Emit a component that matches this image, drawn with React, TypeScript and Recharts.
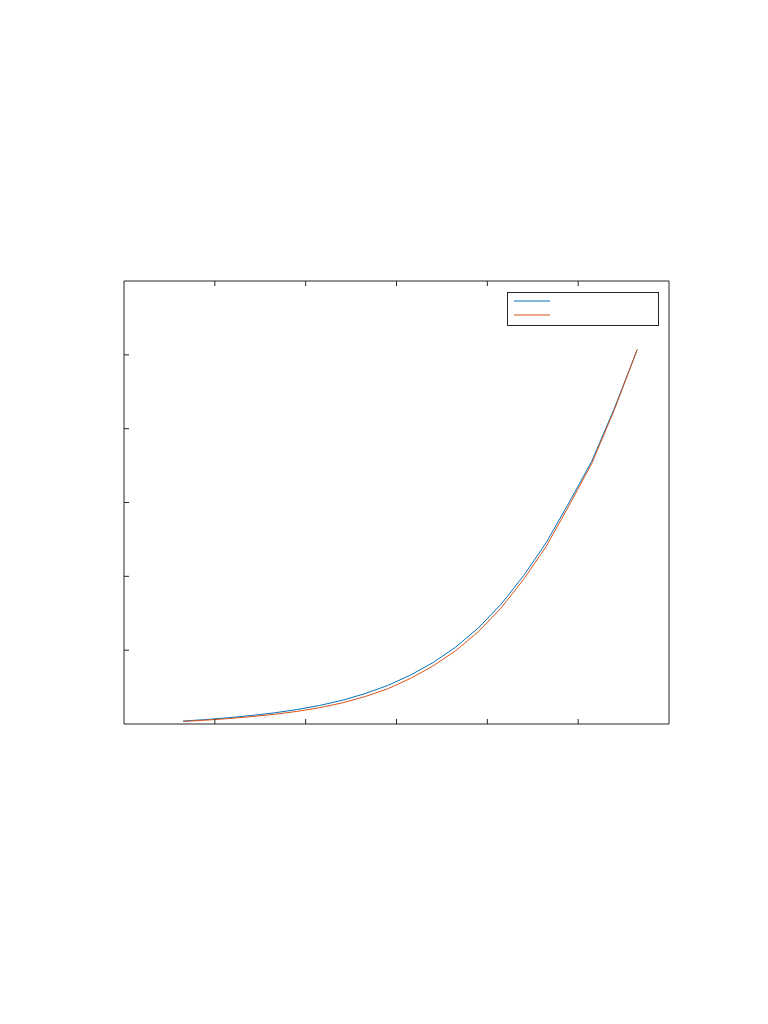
import React from "react";
import { LineChart, Line, XAxis, YAxis } from "recharts";

const xValues = [0.65, 0.9, 1.15, 1.4, 1.65, 1.9, 2.15, 2.4, 2.65, 2.9, 3.15, 3.4, 3.65, 3.9, 4.15, 4.4, 4.65, 4.9, 5.15, 5.4, 5.65];
const series1 = [0.04, 0.06, 0.085, 0.115, 0.15, 0.195, 0.25, 0.32, 0.41, 0.52, 0.66, 0.83, 1.04, 1.3, 1.62, 2.01, 2.46, 3.0, 3.56, 4.28, 5.07];
const series2 = [0.035, 0.052, 0.073, 0.1, 0.13, 0.17, 0.22, 0.285, 0.37, 0.475, 0.615, 0.785, 0.99, 1.25, 1.57, 1.96, 2.41, 2.96, 3.53, 4.26, 5.07];
const xTicks = [1, 2, 3, 4, 5];
const yTicks = [1, 2, 3, 4, 5];

const data = xValues.map((x, i) => ({ x, a: series1[i], b: series2[i] }));

const AXIS = "#262626";
const BLUE = "#0072BD";
const ORANGE = "#D95319";
const TL = 5;

const makeTick = (dx: number, dy: number) => (props: any) => {
  const { x, y } = props;
  return <line x1={x} y1={y} x2={x + dx} y2={y + dy} stroke={AXIS} strokeWidth={1} />;
};

const LegendBox = () => (
  <div
    style={{
      position: "absolute",
      left: 499,
      top: 284,
      width: 150,
      height: 32,
      border: `1px solid ${AXIS}`,
      background: "#fff",
    }}
  >
    <svg width={150} height={32} style={{ position: "absolute", left: 0, top: 0 }}>
      <line x1={6} y1={8} x2={42} y2={8} stroke={BLUE} strokeWidth={1.2} />
      <line x1={6} y1={22} x2={42} y2={22} stroke={ORANGE} strokeWidth={1.2} />
    </svg>
  </div>
);

export default function App() {
  return (
    <div style={{ width: 700, height: 760, position: "relative" }}>
      <LineChart width={700} height={760} data={data} margin={{ top: 272, right: 38, bottom: 43, left: 115 }}>
        <XAxis
          xAxisId="bottom"
          dataKey="x"
          type="number"
          domain={[0, 6]}
          ticks={xTicks}
          orientation="bottom"
          height={1}
          tickSize={0}
          tickMargin={0}
          tickLine={false}
          axisLine={{ stroke: AXIS, strokeWidth: 1 }}
          tick={makeTick(0, -TL)}
          interval={0}
        />
        <XAxis
          xAxisId="top"
          dataKey="x"
          type="number"
          domain={[0, 6]}
          ticks={xTicks}
          orientation="top"
          height={1}
          tickSize={0}
          tickMargin={0}
          tickLine={false}
          axisLine={{ stroke: AXIS, strokeWidth: 1 }}
          tick={makeTick(0, TL)}
          interval={0}
        />
        <YAxis
          yAxisId="left"
          type="number"
          domain={[0, 6]}
          ticks={yTicks}
          orientation="left"
          width={1}
          tickSize={0}
          tickMargin={0}
          tickLine={false}
          axisLine={{ stroke: AXIS, strokeWidth: 1 }}
          tick={makeTick(TL, 0)}
          interval={0}
        />
        <YAxis
          yAxisId="right"
          type="number"
          domain={[0, 6]}
          ticks={yTicks}
          orientation="right"
          width={1}
          tickSize={0}
          tickMargin={0}
          tickLine={false}
          axisLine={{ stroke: AXIS, strokeWidth: 1 }}
          tick={makeTick(-TL, 0)}
          interval={0}
        />
        <Line
          xAxisId="bottom"
          yAxisId="left"
          type="linear"
          dataKey="a"
          stroke={BLUE}
          strokeWidth={1}
          dot={false}
          isAnimationActive={false}
        />
        <Line
          xAxisId="bottom"
          yAxisId="left"
          type="linear"
          dataKey="b"
          stroke={ORANGE}
          strokeWidth={1}
          dot={false}
          isAnimationActive={false}
        />
      </LineChart>
      <LegendBox />
    </div>
  );
}
